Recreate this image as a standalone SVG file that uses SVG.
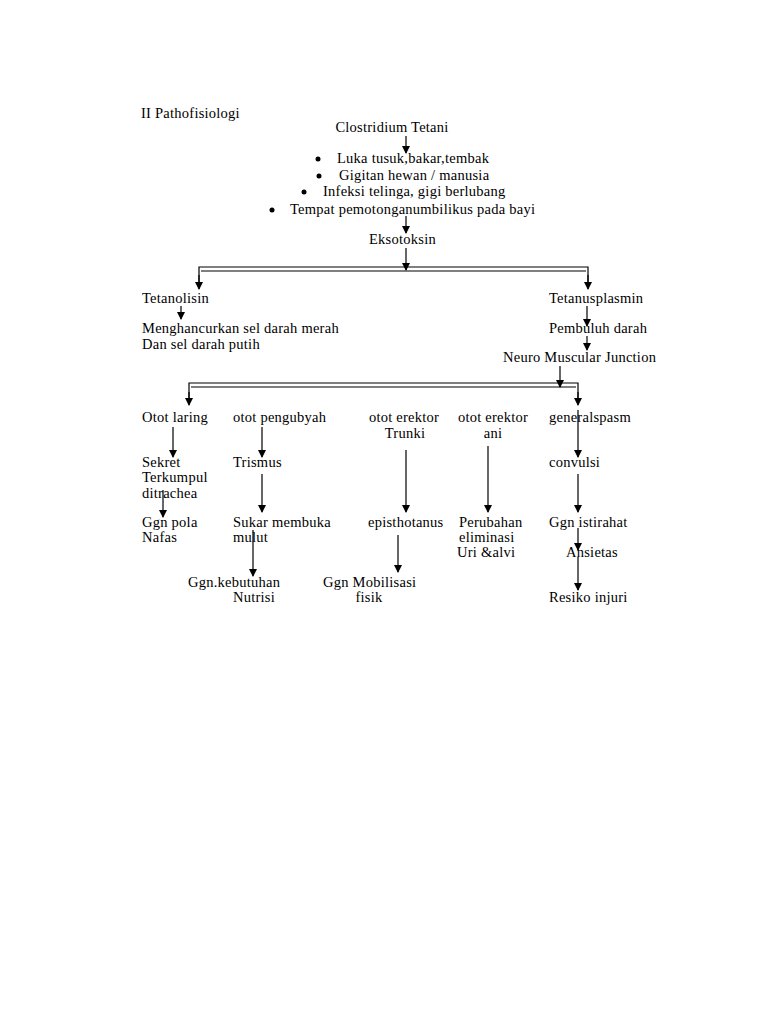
<svg xmlns="http://www.w3.org/2000/svg" width="768" height="1024" viewBox="0 0 768 1024">
<defs>
<marker id="ah" markerWidth="8" markerHeight="8" refX="7" refY="4" orient="auto" markerUnits="userSpaceOnUse">
<path d="M0,0 L8,4 L0,8 Z" fill="#000"/>
</marker>
<style>
text{font-family:"Liberation Serif","DejaVu Serif",serif;font-size:14.5px;letter-spacing:0.25px;fill:#000}
.m{text-anchor:middle}
.c{stroke:#000;stroke-width:1.2;fill:none}
.a{marker-end:url(#ah)}
</style>
</defs>
<rect width="768" height="1024" fill="#fff"/>
<g id="connectors">
<line class="c a" x1="406" y1="136" x2="406" y2="153"/>
<line class="c a" x1="406" y1="216" x2="406" y2="233"/>
<line class="c a" x1="406" y1="248" x2="406" y2="270"/>
<polyline class="c" points="199,287 199,267 588,267 588,287"/>
<line class="c a" x1="199" y1="275" x2="199" y2="289"/>
<line class="c a" x1="588" y1="275" x2="588" y2="289"/>
<line class="c" x1="201" y1="271" x2="586" y2="271"/>
<line class="c a" x1="181" y1="306" x2="181" y2="319"/>
<line class="c a" x1="587" y1="306" x2="587" y2="326"/>
<line class="c a" x1="587" y1="336" x2="587" y2="350"/>
<line class="c a" x1="560" y1="366" x2="560" y2="387"/>
<polyline class="c" points="189,403 189,383 578,383 578,403"/>
<line class="c a" x1="189" y1="392" x2="189" y2="405"/>
<line class="c a" x1="578" y1="392" x2="578" y2="405"/>
<line class="c" x1="191" y1="387" x2="576" y2="387"/>
<line class="c a" x1="173" y1="427" x2="173" y2="457"/>
<line class="c a" x1="262" y1="427" x2="262" y2="457"/>
<line class="c a" x1="406" y1="450" x2="406" y2="512"/>
<line class="c a" x1="488" y1="446" x2="488" y2="512"/>
<line class="c a" x1="578" y1="410" x2="578" y2="457"/>
<line class="c a" x1="163" y1="490" x2="163" y2="517"/>
<line class="c a" x1="262" y1="474" x2="262" y2="512"/>
<line class="c a" x1="578" y1="474" x2="578" y2="512"/>
<line class="c a" x1="253" y1="530" x2="253" y2="576"/>
<line class="c a" x1="398" y1="535" x2="398" y2="572"/>
<line class="c a" x1="578" y1="528" x2="578" y2="550"/>
<line class="c a" x1="578" y1="557" x2="578" y2="590"/>
</g>
<g id="title"><text x="141" y="118">II Pathofisiologi</text></g>
<g id="n-clostridium"><text class="m" x="392" y="132">Clostridium Tetani</text></g>
<g id="n-causes">
<circle cx="318" cy="159" r="2.5"/><text x="337" y="163">Luka tusuk,bakar,tembak</text>
<circle cx="319" cy="176" r="2.5"/><text x="339" y="180">Gigitan hewan / manusia</text>
<circle cx="304" cy="192" r="2.5"/><text x="323" y="196">Infeksi telinga, gigi berlubang</text>
<circle cx="272" cy="210" r="2.5"/><text x="290" y="214">Tempat pemotonganumbilikus pada bayi</text>
</g>
<g id="n-eksotoksin"><text x="369" y="244">Eksotoksin</text></g>
<g id="n-tetanolisin"><text x="142" y="303">Tetanolisin</text></g>
<g id="n-menghancurkan"><text x="142" y="333">Menghancurkan sel darah merah</text><text x="142" y="349">Dan sel darah putih</text></g>
<g id="n-tetanusplasmin"><text x="549" y="303">Tetanusplasmin</text></g>
<g id="n-pembuluh"><text x="549" y="333">Pembuluh darah</text></g>
<g id="n-nmj"><text x="503" y="362">Neuro Muscular Junction</text></g>
<g id="n-otot-laring"><text x="142" y="422">Otot laring</text></g>
<g id="n-otot-pengubyah"><text x="233" y="422">otot pengubyah</text></g>
<g id="n-otot-trunki"><text class="m" x="404" y="422">otot erektor</text><text class="m" x="405" y="438">Trunki</text></g>
<g id="n-otot-ani"><text class="m" x="493" y="422">otot erektor</text><text class="m" x="493" y="438">ani</text></g>
<g id="n-generalspasm"><text x="549" y="422">generalspasm</text></g>
<g id="n-sekret"><text x="142" y="467">Sekret</text><text x="142" y="482">Terkumpul</text><text x="142" y="498">ditrachea</text></g>
<g id="n-trismus"><text x="233" y="467">Trismus</text></g>
<g id="n-convulsi"><text x="549" y="467">convulsi</text></g>
<g id="n-ggn-pola"><text x="142" y="527">Ggn pola</text><text x="142" y="542">Nafas</text></g>
<g id="n-sukar"><text x="233" y="527">Sukar membuka</text><text x="233" y="542">mulut</text></g>
<g id="n-episthotanus"><text x="368" y="527">episthotanus</text></g>
<g id="n-perubahan"><text x="459" y="527">Perubahan</text><text x="459" y="542">eliminasi</text><text x="457" y="557">Uri &amp;alvi</text></g>
<g id="n-ggn-istirahat"><text x="549" y="527">Ggn istirahat</text></g>
<g id="n-ansietas"><text x="566" y="557">Ansietas</text></g>
<g id="n-nutrisi"><text x="188" y="587">Ggn.kebutuhan</text><text class="m" x="254" y="602">Nutrisi</text></g>
<g id="n-mobilisasi"><text x="323" y="587">Ggn Mobilisasi</text><text class="m" x="369" y="602">fisik</text></g>
<g id="n-resiko"><text x="549" y="602">Resiko injuri</text></g>
</svg>
